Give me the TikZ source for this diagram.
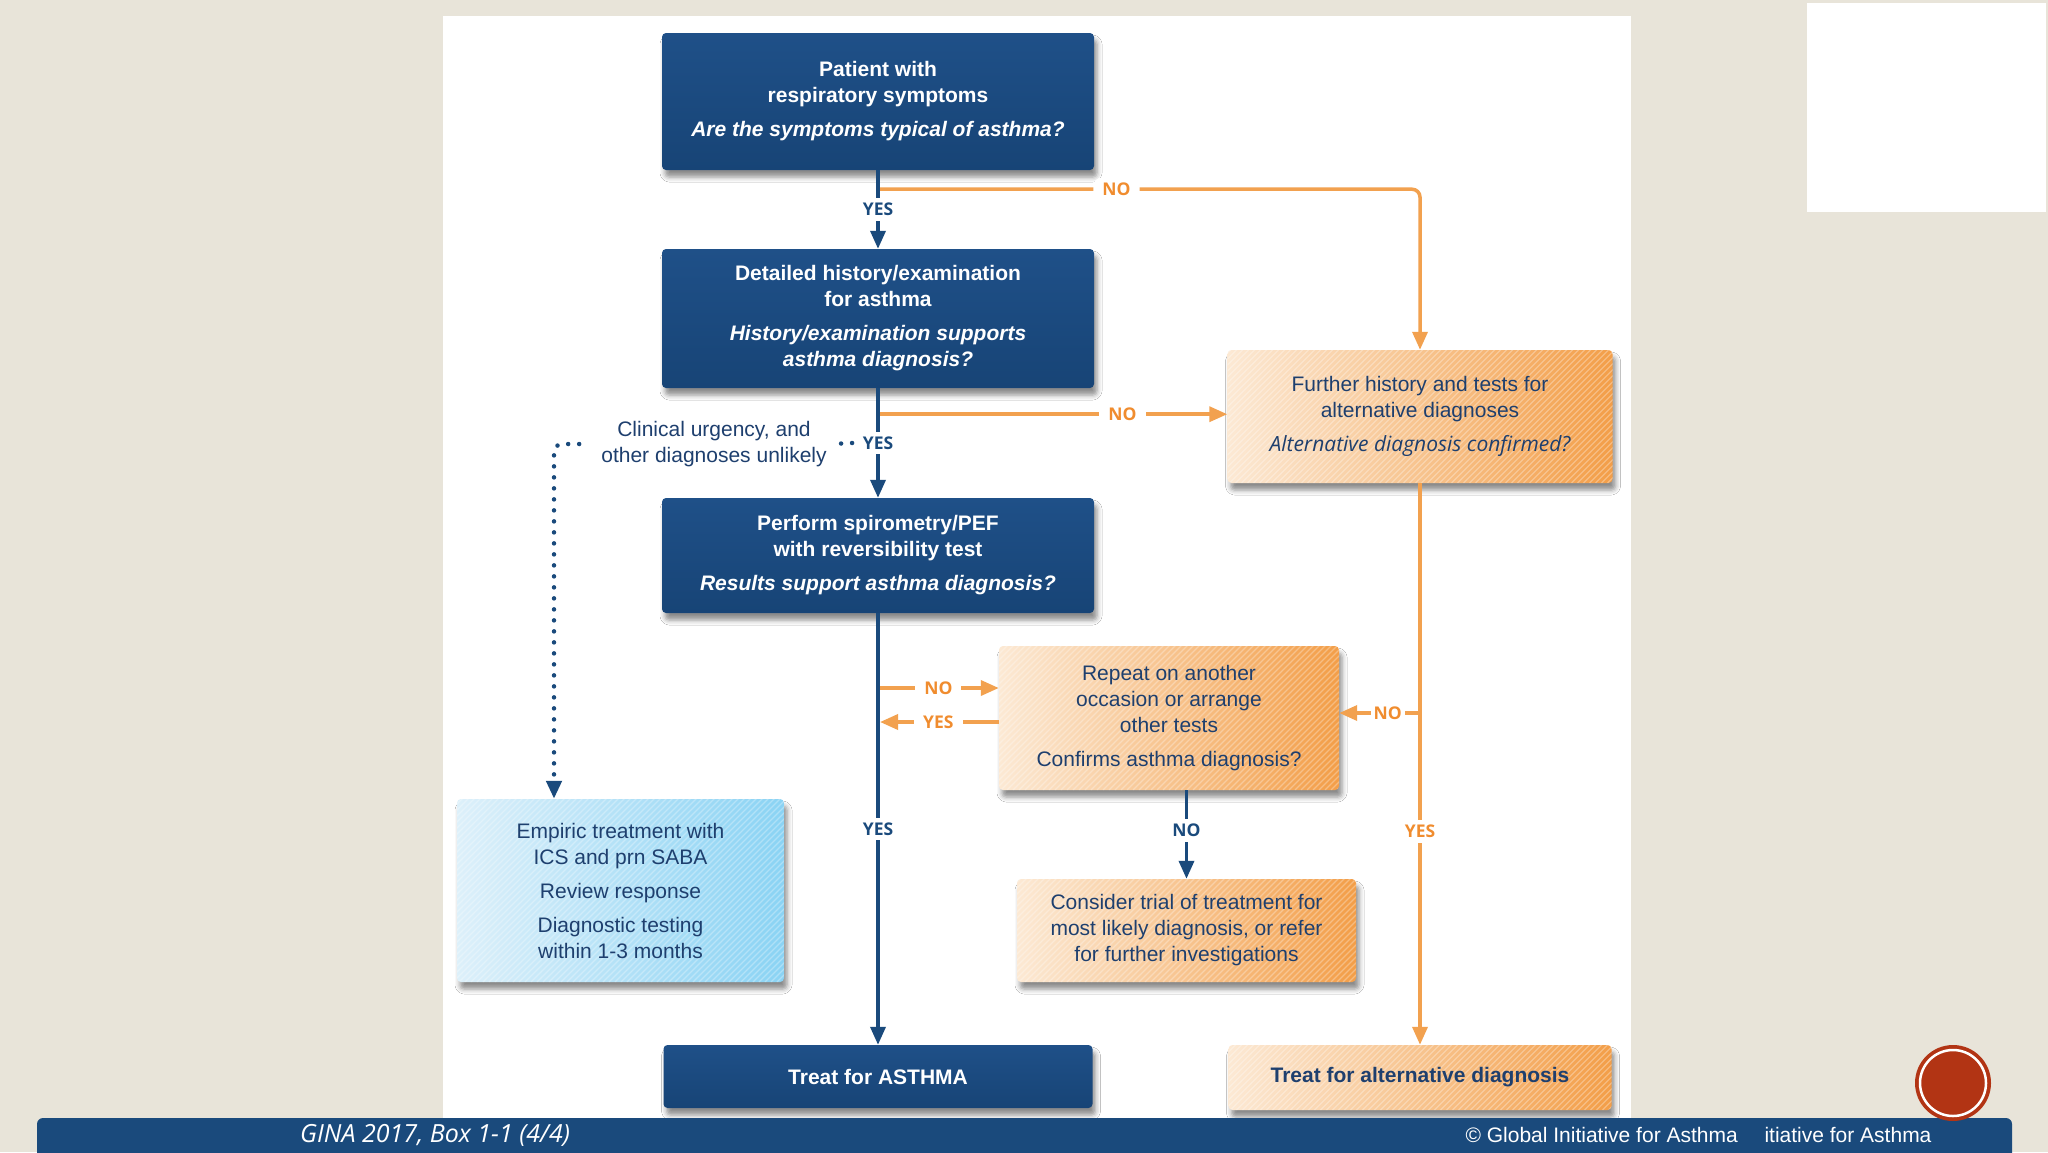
\documentclass[tikz,border=0pt]{standalone}
\usepackage{fontspec}
\setmainfont{Liberation Sans}
\newfontfamily\opensans{Open Sans}
\usetikzlibrary{arrows.meta,shadows.blur}

\definecolor{slidebg}{HTML}{E8E4D9}
\definecolor{navy}{HTML}{1A4A7C}
\definecolor{navytop}{HTML}{1F5088}
\definecolor{navybot}{HTML}{174476}
\definecolor{navytext}{HTML}{1E3F6E}
\definecolor{lineorange}{HTML}{F2A14F}
\definecolor{textorange}{HTML}{F08C2E}
\definecolor{orangeL}{HTML}{FCE9D4}
\definecolor{orangeR}{HTML}{F39E48}
\definecolor{skyL}{HTML}{DDF0FA}
\definecolor{skyR}{HTML}{8AD3F4}
\definecolor{logored}{HTML}{B23414}
\definecolor{shadowblue}{HTML}{3A4E78}

\newcommand{\boxfont}{\fontsize{21}{26}\selectfont}
\newcommand{\lblfont}{\opensans\bfseries\fontsize{17.5}{17.5}\selectfont}

\tikzset{
  box/.style={rounded corners=4pt, align=center, inner sep=0pt, font=\boxfont,
    blur shadow={shadow xshift=3pt, shadow yshift=-7pt, shadow blur radius=5pt, shadow opacity=45}},
  hatched/.style={path picture={
    \foreach \k in {0,6,...,660}
      \draw[white, draw opacity=0.3, line width=1.2pt] ([xshift=\k-220]path picture bounding box.south west) -- ++(240,-240);
  }},
  navybox/.style={box, top color=navytop, bottom color=navybot, text=white, font=\boxfont\bfseries},
  orangebox/.style={box, left color=orangeL, right color=orangeR, text=navytext, hatched},
  skybox/.style={box, left color=skyL, right color=skyR, text=navytext, hatched},
  navyline/.style={draw=navy, line width=3.5pt, -{Triangle[width=15pt,length=18pt]}},
  orangeline/.style={draw=lineorange, line width=3.5pt, -{Triangle[width=15pt,length=18pt]}},
  dotline/.style={draw=navy, line width=4.5pt, line cap=round, dash pattern=on 0pt off 11pt},
  lbl/.style={font=\lblfont, fill=white, inner xsep=9pt, inner ysep=5pt},
  navylbl/.style={lbl, text=navy},
  orangelbl/.style={lbl, text=textorange},
}

\begin{document}
\begin{tikzpicture}[x=1pt, y=-1pt]
\useasboundingbox (0,0) rectangle (2048,1152);
\fill[slidebg] (0,0) rectangle (2048,1152);
\fill[white] (443,16) rectangle (1631,1118);
\fill[white!99!slidebg] (1807,3) rectangle (2046,212);

% boxes
\node[navybox, minimum width=432pt, minimum height=137pt] (patient) at (878,101.5)
  {Patient with\\respiratory symptoms\\[8pt]\itshape Are the symptoms typical of asthma?};
\node[navybox, minimum width=432pt, minimum height=139pt] (history) at (878,318.5)
  {Detailed history/examination\\for asthma\\[8pt]\itshape History/examination supports\\\itshape asthma diagnosis?};
\node[navybox, minimum width=432pt, minimum height=115pt] (spiro) at (878,555.5)
  {Perform spirometry/PEF\\with reversibility test\\[8pt]\itshape Results support asthma diagnosis?};
\node[orangebox, minimum width=385pt, minimum height=133pt] (further) at (1420,416.5)
  {Further history and tests for\\alternative diagnoses\\[8pt]{\opensans\itshape Alternative diagnosis confirmed?}};
\node[orangebox, minimum width=340pt, minimum height=144pt] (repeattest) at (1169,718)
  {Repeat on another\\occasion or arrange\\other tests\\[8pt]Confirms asthma diagnosis?};
\node[orangebox, minimum width=339pt, minimum height=103pt] (consider) at (1186.5,930.5)
  {Consider trial of treatment for\\most likely diagnosis, or refer\\for further investigations};
\node[skybox, minimum width=327pt, minimum height=183pt] (empiric) at (620.5,890.5)
  {Empiric treatment with\\ICS and prn SABA\\[8pt]Review response\\[8pt]Diagnostic testing\\within 1-3 months};
\node[navybox, minimum width=429pt, minimum height=63pt] (asthma) at (878,1076.5) {Treat for ASTHMA};
\node[orangebox, minimum width=383pt, minimum height=65pt, font=\boxfont\bfseries] (alternative) at (1420,1077.5)
  {Treat for alternative diagnosis};
\node[text=navytext, font=\boxfont, align=center, inner sep=4pt] (urgency) at (714,444)
  {Clinical urgency, and\\other diagnoses unlikely};

% orange branches
\draw[orangeline, rounded corners=8pt] (patient.south) ++(0,19) -| node[orangelbl, pos=0.22] {NO} (further.north);
\draw[orangeline] (history.south) ++(0,26) coordinate (hno) -- node[orangelbl, pos=0.7] {NO} (hno -| further.west);
\coordinate (rno) at ([yshift=30pt]repeattest.west);
\coordinate (ryes) at ([yshift=-4pt]repeattest.west);
\coordinate (fno) at ([yshift=5pt]repeattest.east);
\draw[orangeline] (rno -| spiro.south) -- node[orangelbl] {NO} (rno);
\draw[orangeline, shorten >=2pt] (ryes) -- node[orangelbl] {YES} (ryes -| spiro.south);
\draw[orangeline] (further) -- node[orangelbl, pos=0.62] {YES} (alternative);
\draw[orangeline] (fno -| further.south) -- node[orangelbl, pos=0.4, inner xsep=3pt] {NO} (fno);

% navy connectors
\draw[navyline] (patient) -- node[navylbl] {YES} (history);
\draw[navyline] (history) -- node[navylbl] (yes2) {YES} (spiro);
\draw[navyline] (spiro) -- node[navylbl] {YES} (asthma);
\draw[navyline] (repeattest.south -| consider.north) -- node[navylbl, pos=0.45] {NO} (consider.north);
\draw[dotline] (yes2.west) -- (urgency.east);
\draw[dotline, rounded corners=8pt, -{Triangle[width=15pt,length=18pt]}] ([xshift=-18pt]urgency.west) -| ([xshift=-66.5pt]empiric.north);

% footer
\fill[navy, rounded corners=6pt] (37,1118) rectangle (2012,1180);
\node[text=white, font=\opensans\itshape\fontsize{25}{25}\selectfont] (source) at (435,1135) {GINA 2017, Box 1-1 (4/4)};
\node[text=white, font=\fontsize{21}{21}\selectfont, anchor=west] (copyright) at (1462,1135) {© Global Initiative for Asthma};
\node[text=white, font=\fontsize{21}{21}\selectfont, anchor=west] (copyright2) at (1761,1135) {itiative for Asthma};
\fill[logored] (1953,1083) circle (38pt);
\draw[white, line width=2.5pt] (1953,1083) circle (33pt);
\end{tikzpicture}
\end{document}
